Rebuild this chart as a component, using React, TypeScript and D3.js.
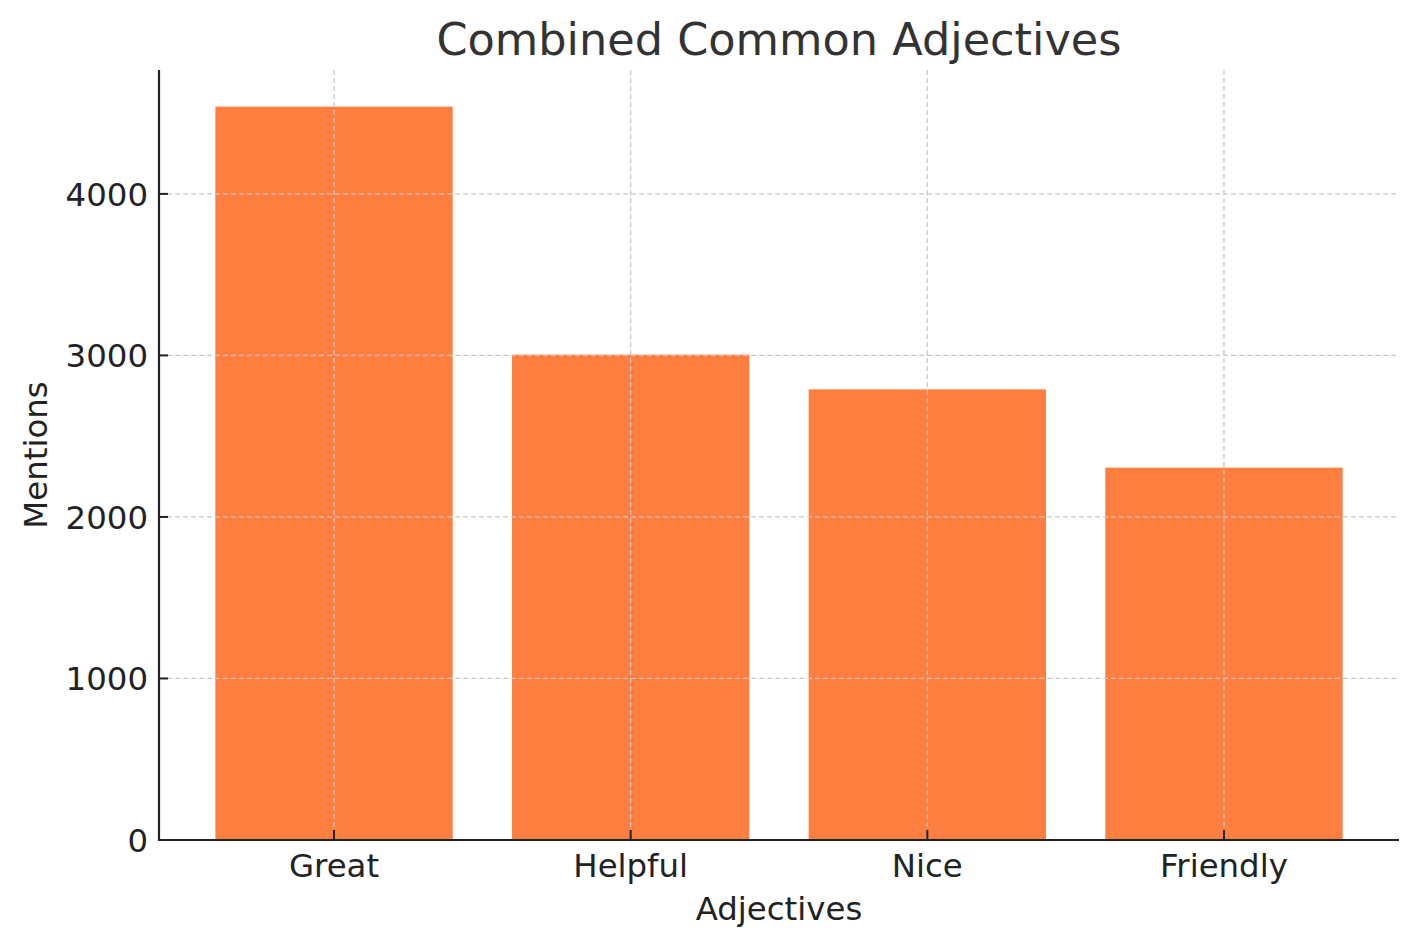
import React from "react";
import * as d3 from "d3";

const categories = ["Great", "Helpful", "Nice", "Friendly"];
const mentions = [4540, 3005, 2790, 2305];
const yTicks = [0, 1000, 2000, 3000, 4000];

const W = 1418, H = 947;
const M = { left: 159, right: 1399, top: 70, bottom: 840 };
const FONT = "DejaVu Sans";

export default function App() {
  const x = d3.scaleLinear().domain([-0.59, 3.59]).range([M.left, M.right]);
  const yMax = d3.max(mentions)! * 1.05;
  const y = d3.scaleLinear().domain([0, yMax]).range([M.bottom, M.top]);
  const bw = x(0.4) - x(0);
  const axisColor = "#222";
  return (
    <svg width={W} height={H} style={{ position: "absolute", left: 0, top: 0, background: "#fff" }} fontFamily={FONT}>
      {mentions.map((v, i) => (
        <rect key={i} x={x(i) - bw} y={y(v)} width={bw * 2} height={y(0) - y(v)} fill="#FF7F41" />
      ))}
      {yTicks.map((t) => (
        <line key={"gy" + t} x1={M.left} x2={M.right} y1={y(t)} y2={y(t)} stroke="#c8c8c8" strokeWidth={1.3} strokeDasharray="5,3" />
      ))}
      {categories.map((c, i) => (
        <line key={"gx" + c} x1={x(i)} x2={x(i)} y1={M.top} y2={M.bottom} stroke="#c8c8c8" strokeWidth={1.3} strokeDasharray="5,3" />
      ))}
      <line x1={M.left} x2={M.left} y1={M.top} y2={M.bottom + 1} stroke={axisColor} strokeWidth={2.2} />
      <line x1={M.left - 1} x2={M.right} y1={M.bottom} y2={M.bottom} stroke={axisColor} strokeWidth={2.2} />
      {yTicks.map((t) => (
        <g key={"ty" + t}>
          <line x1={M.left} x2={M.left + 9} y1={y(t)} y2={y(t)} stroke={axisColor} strokeWidth={2} />
          <text x={M.left - 11} y={y(t)} dy="0.36em" textAnchor="end" fontSize={32.4} fill={axisColor}>{t}</text>
        </g>
      ))}
      {categories.map((c, i) => (
        <g key={"tx" + c}>
          <line x1={x(i)} x2={x(i)} y1={M.bottom} y2={M.bottom - 10} stroke={axisColor} strokeWidth={2} />
          <text x={x(i)} y={877} textAnchor="middle" fontSize={32.4} fill={axisColor}>{c}</text>
        </g>
      ))}
      <text x={(M.left + M.right) / 2} y={920} textAnchor="middle" fontSize={32.4} fill={axisColor}>Adjectives</text>
      <text transform={`translate(47,${(M.top + M.bottom) / 2}) rotate(-90)`} textAnchor="middle" fontSize={32.4} fill={axisColor}>Mentions</text>
      <text x={(M.left + M.right) / 2} y={55} textAnchor="middle" fontSize={44.6} fill="#333">Combined Common Adjectives</text>
    </svg>
  );
}
